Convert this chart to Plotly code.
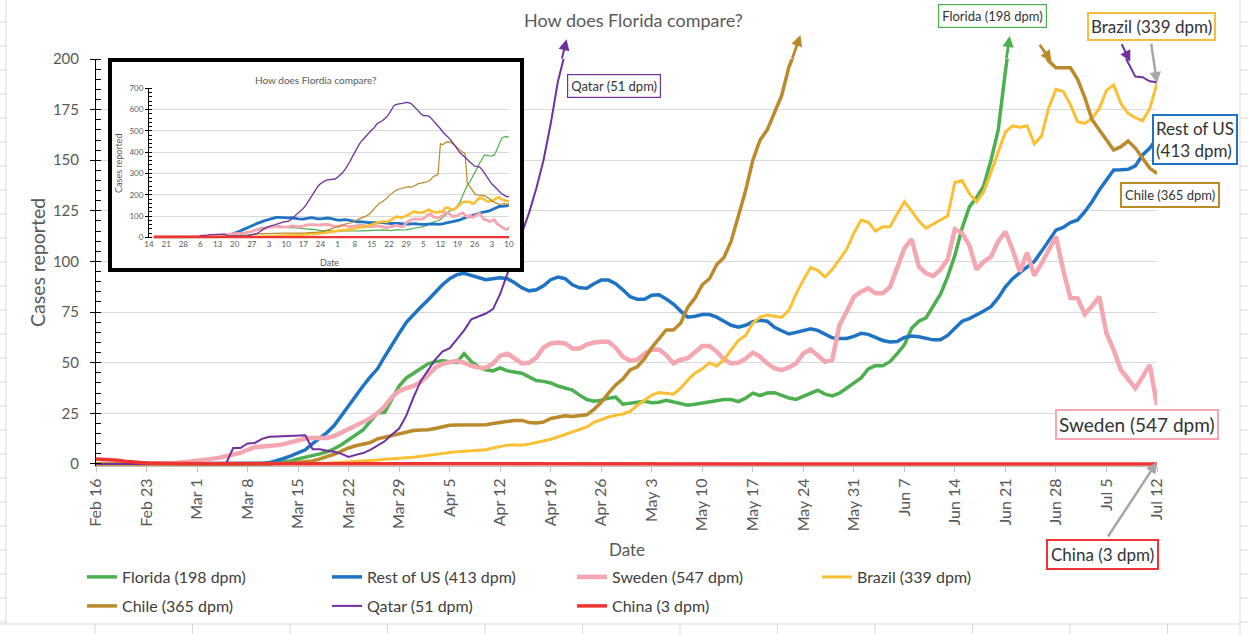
import pandas as pd
import plotly.graph_objects as go

# ---------------- data (per-million daily cases, 7-day avg) ----------------
START, END = "2020-02-16", "2020-07-12"
DATES = pd.date_range(START, END, freq="D")

INSET_START, INSET_END = "2020-02-14", "2020-07-10"

NAMES = ["Florida (198 dpm)", "Rest of US (413 dpm)", "Sweden (547 dpm)",
         "Brazil (339 dpm)", "Chile (365 dpm)", "Qatar (51 dpm)", "China (3 dpm)"]

FLORIDA = [
    0, 0, 0, 0, 0, 0, 0, 0, 0, 0,
    0, 0, 0, 0, 0, 0, 0, 0, 0, 0,
    0, 0, 0, 0, 0, 0.5, 1.0, 1.5, 2.5, 3.2,
    4.0, 5.0, 6.0, 7.5, 9.5, 12.0, 14.5, 16.8, 21.0, 25.2,
    25.5, 32.0, 38.5, 42.5, 45.0, 47.0, 49.5, 50.5, 51.0, 50.5,
    50.2, 54.5, 50.5, 48.0, 46.5, 46.0, 47.5, 46.0, 45.5, 44.8,
    43.0, 41.2, 40.8, 40.0, 38.5, 37.5, 36.5, 34.0, 31.8, 31.0,
    31.5, 32.5, 33.0, 29.5, 30.0, 30.9, 31.0, 30.2, 30.5, 31.4,
    30.5, 29.8, 29.0, 29.5, 30.0, 30.7, 31.4, 31.8, 31.8, 30.8,
    32.5, 35.0, 33.8, 35.0, 35.2, 34.0, 32.6, 31.9, 33.5, 35.2,
    36.4, 34.5, 33.6, 35.0, 37.5, 40.0, 42.5, 47.0, 48.6, 48.5,
    50.5, 54.5, 58.8, 67.0, 70.5, 72.2, 78.0, 83.8, 92.5, 103.0,
    116.5, 127.0, 131.5, 137.5, 150.0, 165.0, 194.0, 222.0, 246.0, 260.0,
    280.0, 300.0, 325.0, 348.0, 370.0, 387.0, 385.0, 382.0, 383.0, 387.0,
    410.0, 441.0, 465.0, 472.0, 473.0, 470.0, 463.0, 460.0,
]

REST_US = [
    0, 0, 0, 0, 0, 0, 0, 0, 0, 0,
    0, 0, 0, 0, 0, 0, 0, 0, 0, 0,
    0, 0, 0.2, 0.4, 0.7, 1.5, 2.7, 4.0, 5.5, 7.0,
    10.0, 12.5, 15.5, 19.0, 24.0, 28.5, 34.0, 38.5, 43.0, 47.0,
    53.0, 59.0, 64.5, 70.0, 74.0, 77.5, 81.0, 85.0, 88.5, 91.5,
    93.5, 94.2, 93.0, 91.8, 91.0, 91.5, 92.0, 91.5, 89.5, 87.0,
    85.5, 86.0, 88.0, 91.0, 92.3, 91.5, 88.5, 87.0, 86.8, 89.0,
    90.8, 90.8, 89.0, 86.0, 82.6, 81.3, 81.3, 83.3, 83.6, 81.5,
    79.0, 75.5, 72.5, 73.0, 73.8, 73.8, 72.5, 70.5, 68.5, 67.5,
    68.5, 70.3, 71.0, 70.5, 67.5, 65.8, 64.2, 65.0, 66.0, 66.8,
    66.0, 64.0, 62.3, 62.0, 62.0, 63.0, 64.5, 64.0, 62.5, 61.0,
    60.2, 60.5, 62.5, 63.2, 62.8, 62.2, 61.3, 61.3, 63.5, 67.0,
    70.5, 71.8, 73.5, 75.5, 77.7, 82.0, 87.5, 91.5, 94.5, 97.5,
    100.0, 105.0, 110.5, 115.5, 116.8, 119.2, 120.5, 124.6, 129.5, 135.3,
    140.2, 145.2, 145.3, 145.5, 147.2, 152.6, 156.0, 160.8,
]

SWEDEN = [
    0, 0, 0, 0, 0, 0, 0, 0, 0, 0,
    0.2, 0.5, 0.8, 1.2, 1.6, 2.0, 2.5, 3.0, 3.8, 4.6,
    5.5, 7.0, 8.3, 8.6, 8.8, 9.2, 9.8, 10.8, 12.0, 12.6,
    12.8, 12.8, 12.8, 13.8, 15.5, 17.5, 19.5, 21.0, 22.5, 25.0,
    28.5, 33.0, 36.0, 37.4, 38.5, 40.5, 44.0, 47.5, 49.5, 50.5,
    51.0, 50.0, 48.5, 47.7, 47.5, 49.5, 53.5, 54.5, 52.0, 49.7,
    50.0, 52.5, 57.5, 59.5, 60.0, 59.5, 57.0, 57.0, 59.0, 60.0,
    60.4, 60.4, 57.5, 53.0, 51.0, 51.5, 54.5, 56.4, 56.5, 53.8,
    49.7, 51.5, 52.2, 55.5, 58.3, 58.3, 55.5, 51.7, 49.7, 50.0,
    52.0, 55.0, 53.0, 49.7, 47.2, 46.4, 47.7, 49.7, 54.6, 56.6,
    53.3, 50.5, 51.4, 68.6, 75.2, 82.6, 85.1, 86.7, 84.3, 84.3,
    87.3, 97.4, 106.5, 111.0, 97.5, 94.2, 92.8, 96.0, 101.0, 116.0,
    114.0, 108.0, 96.0, 99.9, 102.4, 110.0, 114.7, 105.7, 95.0, 104.4,
    93.0, 99.0, 105.5, 112.3, 95.8, 82.0, 81.8, 74.0, 78.0, 82.6,
    64.5, 56.3, 46.4, 42.0, 37.4, 43.0, 48.9, 29.1,
]

BRAZIL = [
    0, 0, 0, 0, 0, 0, 0, 0, 0, 0,
    0, 0, 0, 0, 0, 0, 0, 0, 0, 0,
    0, 0, 0, 0, 0, 0, 0, 0, 0, 0,
    0, 0.2, 0.4, 0.6, 0.8, 1.0, 1.2, 1.3, 1.6, 2.0,
    2.3, 2.5, 2.7, 3.0, 3.3, 3.8, 4.3, 4.9, 5.4, 5.9,
    6.1, 6.3, 6.5, 6.6, 7.0, 7.9, 8.7, 9.3, 9.4, 9.3,
    9.8, 10.5, 11.3, 12.2, 13.3, 14.5, 15.7, 17.0, 18.3, 20.5,
    22.0, 23.2, 24.0, 24.7, 26.0, 29.0, 31.5, 34.0, 35.3, 35.0,
    34.5, 37.4, 41.5, 45.0, 47.0, 50.0, 48.3, 51.5, 56.0, 61.0,
    63.5, 69.5, 72.5, 73.6, 73.0, 72.4, 76.0, 84.0, 90.9, 97.0,
    95.6, 92.4, 96.0, 100.7, 106.0, 114.0, 120.5, 119.3, 115.0, 117.2,
    117.2, 123.5, 129.5, 125.0, 120.0, 116.5, 118.3, 120.5, 122.5, 139.0,
    140.0, 133.5, 129.5, 134.5, 144.0, 154.0, 164.0, 167.0, 166.3, 167.0,
    158.0, 162.0, 176.0, 185.0, 184.0, 177.5, 169.0, 168.2, 170.7, 175.6,
    184.5, 187.2, 178.0, 173.2, 171.0, 169.5, 175.6, 188.0,
]

CHILE = [
    0, 0, 0, 0, 0, 0, 0, 0, 0, 0,
    0, 0, 0, 0, 0, 0, 0, 0, 0, 0,
    0, 0, 0, 0, 0, 0, 0.3, 0.5, 0.8, 1.1,
    1.5, 2.5, 3.5, 4.8, 6.3, 7.9, 9.0, 10.0, 10.6, 12.4,
    13.2, 14.0, 15.0, 15.8, 16.5, 16.8, 16.9, 17.5, 18.5, 19.1,
    19.3, 19.4, 19.4, 19.4, 19.4, 20.0, 20.6, 21.2, 21.5, 21.5,
    20.5, 20.2, 20.7, 22.5, 23.3, 23.8, 23.5, 23.8, 24.3, 27.0,
    30.5, 35.0, 39.0, 42.0, 46.5, 48.0, 52.0, 57.5, 62.0, 66.2,
    66.2, 69.5, 77.5, 82.0, 88.5, 91.5, 98.5, 102.0, 110.0, 123.0,
    135.0, 150.0, 160.0, 165.0, 174.0, 182.0, 196.0, 205.0, 212.0, 222.0,
    226.0, 230.0, 232.0, 236.0, 238.0, 235.0, 240.0, 248.0, 252.0, 255.0,
    257.0, 260.0, 262.0, 270.0, 285.0, 290.0, 295.0, 440.0, 435.0, 445.0,
    448.0, 447.0, 440.0, 432.0, 420.0, 408.0, 400.0, 395.0, 254.0, 238.0,
    220.0, 205.0, 199.0, 195.7, 195.7, 195.7, 190.0, 181.0, 170.0, 165.0,
    160.0, 155.0, 156.7, 159.5, 156.0, 151.0, 146.0, 143.5,
]

QATAR = [
    0, 0, 0, 0, 0, 0, 0, 0, 0, 0,
    0, 0, 0, 0, 0, 0, 0, 0, 0, 7.9,
    7.9, 10.1, 10.4, 12.4, 13.4, 13.6, 13.7, 14.0, 14.2, 14.2,
    7.3, 7.3, 6.5, 6.0, 5.0, 3.5, 4.5, 5.4, 7.0, 9.0,
    11.2, 14.5, 17.5, 24.0, 33.0, 41.0, 46.5, 51.5, 55.5, 57.2,
    61.5, 66.0, 71.5, 73.0, 74.3, 76.5, 84.0, 94.0, 104.0, 114.0,
    124.0, 136.0, 150.0, 168.0, 189.0, 203.0, 222.0, 240.0, 252.0, 260.0,
    266.0, 270.0, 272.0, 272.0, 274.0, 282.0, 292.0, 303.0, 318.0, 335.0,
    355.0, 378.0, 400.0, 420.0, 440.0, 455.0, 468.0, 482.0, 495.0, 505.0,
    515.0, 532.0, 540.0, 545.0, 555.0, 565.0, 580.0, 598.0, 618.0, 624.0,
    625.0, 626.0, 630.0, 634.0, 633.0, 628.0, 618.0, 604.0, 594.0, 580.0,
    572.0, 572.0, 570.0, 562.0, 550.0, 537.0, 524.0, 510.0, 495.0, 484.0,
    474.0, 460.0, 445.0, 428.0, 412.0, 397.0, 387.0, 378.0, 366.0, 354.0,
    342.0, 334.0, 333.0, 330.0, 318.0, 300.0, 282.0, 265.0, 250.0, 240.0,
    228.0, 214.0, 205.0, 198.0, 191.3, 191.0, 189.0, 188.5,
]

CHINA = [
    2.5, 2.4, 2.1, 1.8, 1.4, 1.0, 0.7, 0.5, 0.4, 0.3,
    0.3, 0.2, 0.2, 0.1, 0.1, 0.1, 0.1, 0.1, 0.1, 0.1,
    0.1, 0.1, 0.1, 0.1, 0.1, 0.1, 0.1, 0.1, 0.1, 0.1,
    0.1, 0.1, 0.1, 0.1, 0.1, 0.1, 0.1, 0.1, 0.1, 0.1,
    0.1, 0.1, 0.1, 0.1, 0.1, 0.0, 0.0, 0.0, 0.0, 0.0,
    0.0, 0.0, 0.0, 0.0, 0.0, 0.0, 0.0, 0.0, 0.0, 0.0,
    0.0, 0.0, 0.0, 0.0, 0.0, 0.0, 0.0, 0.0, 0.0, 0.0,
    0.0, 0.0, 0.0, 0.0, 0.0, 0.0, 0.0, 0.0, 0.0, 0.0,
    0.0, 0.0, 0.0, 0.0, 0.0, 0.0, 0.0, 0.0, 0.0, 0.0,
    0.0, 0.0, 0.0, 0.0, 0.0, 0.0, 0.0, 0.0, 0.0, 0.0,
    0.0, 0.0, 0.0, 0.0, 0.0, 0.0, 0.0, 0.0, 0.0, 0.0,
    0.0, 0.0, 0.0, 0.0, 0.0, 0.0, 0.0, 0.0, 0.0, 0.0,
    0.0, 0.0, 0.0, 0.0, 0.0, 0.0, 0.0, 0.0, 0.0, 0.0,
    0.0, 0.0, 0.0, 0.0, 0.0, 0.0, 0.0, 0.0, 0.0, 0.0,
    0.0, 0.0, 0.0, 0.0, 0.0, 0.0, 0.0, 0.0,
]

Y_TICKS = [0, 25, 50, 75, 100, 125, 150, 175, 200]
INSET_Y_TICKS = [0, 100, 200, 300, 400, 500, 600, 700]

for s in (FLORIDA, REST_US, SWEDEN, BRAZIL, CHILE, QATAR, CHINA):
    assert len(s) == len(DATES), len(s)

# ---------------- styling ----------------
FONT = "Lato"
C_FL, C_US, C_SE, C_BR = "#4CAF50", "#1F73C5", "#F4A7B0", "#FBBF33"
C_CL, C_QA, C_CN = "#BA8A2B", "#7030A0", "#EE3333"
GRAYTXT = "#595959"

W, H = 1248, 634
L, R, T, B = 96, 1157, 59, 466  # plot area edges in px


def PX(x):
    return (x - L) / (R - L)


def PY(y):
    return (B - y) / (B - T)


def DAY(d):
    return DATES[0] + pd.Timedelta(hours=24 * d)


series = [
    (NAMES[0], FLORIDA, C_FL, 3.5, 1.2, "legend"),
    (NAMES[1], REST_US, C_US, 3.5, 2.8, "legend"),
    (NAMES[2], SWEDEN, C_SE, 4.5, 2.8, "legend"),
    (NAMES[3], BRAZIL, C_BR, 3.0, 2.6, "legend"),
    (NAMES[4], CHILE, C_CL, 3.5, 1.2, "legend2"),
    (NAMES[5], QATAR, C_QA, 2.0, 1.3, "legend2"),
    (NAMES[6], CHINA, C_CN, 3.5, 2.5, "legend2"),
]

fig = go.Figure()
for name, vals, col, w_main, w_in, lg in series:
    fig.add_trace(go.Scatter(x=DATES, y=vals, mode="lines", name=name,
                             line=dict(color=col, width=w_main),
                             legend=lg, xaxis="x", yaxis="y", hoverinfo="skip"))
# background subplot for the inset (white panel)
fig.add_trace(go.Scatter(x=[], y=[], xaxis="x2", yaxis="y2", showlegend=False,
                         hoverinfo="skip"))
for name, vals, col, w_main, w_in, lg in series:
    fig.add_trace(go.Scatter(x=DATES, y=vals, mode="lines", name=name,
                             line=dict(color=col, width=w_in), showlegend=False,
                             xaxis="x3", yaxis="y3", hoverinfo="skip"))

shapes = []
# spreadsheet cell lines around the chart area
CELL = "#D9D9D9"


def pline(x0, y0, x1, y1, color=CELL, w=1, layer="below"):
    return dict(type="line", xref="paper", yref="paper",
                x0=PX(x0), y0=PY(y0), x1=PX(x1), y1=PY(y1),
                line=dict(color=color, width=w), layer=layer)


shapes.append(pline(1240, 0, 1240, 634))
shapes.append(pline(0, 624, 1240, 624))
shapes.append(pline(6, 0, 6, 624))
yy = 22
while yy < 634:
    shapes.append(pline(1240, yy, 1248, yy))
    shapes.append(pline(0, yy, 6, yy))
    yy += 24
xx = 95
while xx < 1248:
    shapes.append(pline(xx, 624, xx, 634))
    xx += 97.5

# inset white panel + black frame
shapes.append(dict(type="rect", xref="x2", yref="y2", x0=0, x1=1, y0=0, y1=1,
                   fillcolor="white", line=dict(width=0), layer="below"))
shapes.append(dict(type="rect", xref="paper", yref="paper",
                   x0=PX(110), x1=PX(522), y0=PY(270), y1=PY(60),
                   line=dict(color="black", width=4), fillcolor="rgba(0,0,0,0)",
                   layer="above"))

ann = []


def txt(text, x, y, size, color=GRAYTXT, angle=0):
    ann.append(dict(text=text, x=PX(x), y=PY(y), xref="paper", yref="paper",
                    showarrow=False, textangle=angle, xanchor="center",
                    yanchor="middle", font=dict(family=FONT, size=size, color=color)))


txt("How does Florida compare?", 633, 20, 18)
txt("Cases reported", 37, 263, 19.5, angle=-90)
txt("Date", 627, 549, 17)
txt("How does Flordia compare?", 316, 80, 10)
txt("Cases reported", 118, 163, 9, angle=-90)
txt("Date", 329, 262, 9)

callouts = [
    ("Florida (198 dpm)", 992, 16, 13, C_FL, 1.2, 3),
    ("Qatar (51 dpm)", 614, 86, 13, C_QA, 1.2, 3),
    ("Brazil (339 dpm)", 1151.5, 26.5, 17, "#F6BE3C", 2, 2),
    ("Rest of US<br>(413 dpm)", 1194.5, 139.5, 17, C_US, 2, 2),
    ("Chile (365 dpm)", 1170, 195, 13, C_CL, 2, 3),
    ("Sweden (547 dpm)", 1136.5, 424.5, 19, C_SE, 2, 2),
    ("China (3 dpm)", 1102, 554, 17, C_CN, 2, 3),
]
for text, cx, cy, size, col, bw, pad in callouts:
    ann.append(dict(text=text, x=PX(cx), y=PY(cy), xref="paper", yref="paper",
                    showarrow=False, xanchor="center", yanchor="middle", align="left",
                    bgcolor="white", bordercolor=col, borderwidth=bw, borderpad=pad,
                    font=dict(family=FONT, size=size, color="#333333")))

# arrows continuing lines beyond the axis (data coordinates)
data_arrows = [
    (65.2, 209.7, 64.5, 199.5, C_QA, 2.0, 1.1),
    (97.6, 211.9, 96.4, 199.5, C_CL, 2.8, 0.8),
    (126.6, 211.4, 126.1, 199.5, C_FL, 2.8, 0.8),
    (132.4, 198.7, 130.6, 207.7, C_CL, 2.8, 0.8),
    (143.3, 198.7, 142.0, 208.0, C_QA, 2.0, 1.1),
]
for hx, hy, tx, ty, col, w, asz in data_arrows:
    ann.append(dict(text="", x=DAY(hx), y=hy, ax=DAY(tx), ay=ty,
                    xref="x", yref="y", axref="x", ayref="y",
                    showarrow=True, arrowhead=2, arrowsize=asz, arrowwidth=w,
                    arrowcolor=col, standoff=0, startstandoff=0))

# gray pointer arrows
ann.append(dict(text="", x=PX(1157), y=188, xref="paper", yref="y",
                ax=-6, ay=-41, showarrow=True, arrowhead=2, arrowsize=0.9,
                arrowwidth=2.5, arrowcolor="#A6A6A6", standoff=0))
ann.append(dict(text="", x=PX(1157), y=1, xref="paper", yref="y",
                ax=-50, ay=76, showarrow=True, arrowhead=2, arrowsize=0.9,
                arrowwidth=2.5, arrowcolor="#A6A6A6", standoff=0))

legend_common = dict(orientation="h", xanchor="left", yanchor="middle",
                     entrywidth=200, entrywidthmode="pixels",
                     font=dict(family=FONT, size=16, color="#404040"),
                     bgcolor="rgba(0,0,0,0)", itemwidth=30, tracegroupgap=0)

fig.update_layout(
    width=W, height=H,
    margin=dict(l=L, r=W - R, t=T, b=H - B, autoexpand=False),
    paper_bgcolor="white", plot_bgcolor="white",
    font=dict(family=FONT, color=GRAYTXT),
    showlegend=True,
    legend=dict(x=PX(82), y=PY(577), **legend_common),
    legend2=dict(x=PX(82), y=PY(606), **legend_common),
    xaxis=dict(domain=[0, 1], anchor="y", type="date",
               range=[DATES[0], DATES[-1]], tickmode="array",
               tickvals=list(DATES[::7]), tickformat="%b %-d", tickangle=-90,
               tickfont=dict(family=FONT, size=16, color=GRAYTXT),
               showgrid=False, showline=True, linecolor="#BFBFBF",
               ticks="outside", ticklen=5, tickcolor="#BFBFBF", zeroline=False,
               fixedrange=True),
    yaxis=dict(domain=[0, 1], anchor="x", range=[-1, 200], tickmode="array",
               tickvals=Y_TICKS, showgrid=True, gridcolor="#D9D9D9", gridwidth=1,
               showline=True, linecolor="black", linewidth=1,
               ticks="outside", ticklen=5, tickcolor="black",
               minor=dict(tick0=0, dtick=5, ticks="inside", ticklen=5,
                          tickcolor="black", showgrid=False),
               tickfont=dict(family=FONT, size=15, color=GRAYTXT),
               ticklabelstandoff=8, zeroline=False, fixedrange=True),
    xaxis2=dict(domain=[PX(108), PX(524)], anchor="y2", range=[0, 1],
                visible=False, fixedrange=True),
    yaxis2=dict(domain=[PY(272), 1.0], anchor="x2", range=[0, 1],
                visible=False, fixedrange=True),
    xaxis3=dict(domain=[PX(149), PX(509)], anchor="y3", type="date",
                range=[INSET_START, INSET_END], tickmode="array",
                tickvals=list(pd.date_range(INSET_START, INSET_END, freq="7D")),
                tickformat="%-d", tickangle=0,
                tickfont=dict(family=FONT, size=8, color=GRAYTXT),
                showgrid=False, showline=False, ticks="", zeroline=False,
                fixedrange=True),
    yaxis3=dict(domain=[PY(238.4), PY(88.3)], anchor="x3", range=[-5, 700],
                tickmode="array", tickvals=INSET_Y_TICKS,
                showgrid=True, gridcolor="#D9D9D9", showline=True,
                linecolor="black", ticks="outside", ticklen=3, tickcolor="black",
                minor=dict(tick0=0, dtick=20, ticks="inside", ticklen=3,
                           tickcolor="black", showgrid=False),
                tickfont=dict(family=FONT, size=8, color=GRAYTXT),
                zeroline=False, fixedrange=True),
    shapes=shapes,
    annotations=ann,
)

fig.write_html("out.html")
